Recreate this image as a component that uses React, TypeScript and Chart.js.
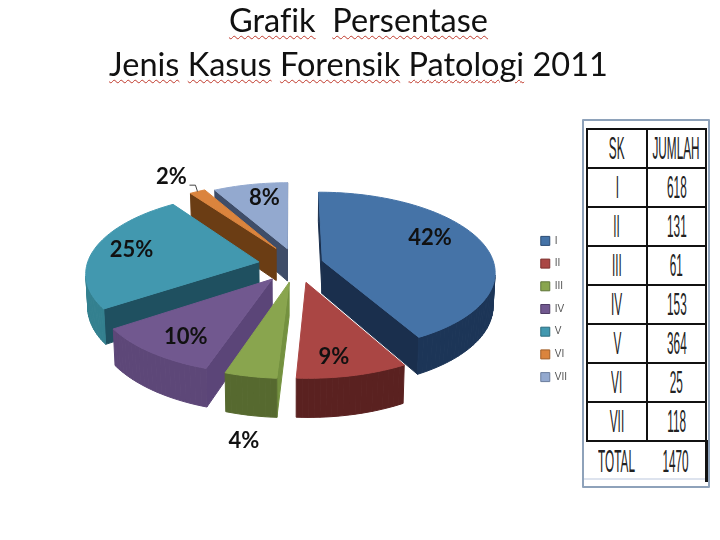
import React, { useEffect, useRef } from "react";
import { Chart, registerables } from "chart.js";

Chart.register(...registerables);

const titleLine1 = ["Grafik", "Persentase"];
const titleLine2 = ["Jenis", "Kasus", "Forensik", "Patologi"];
const titleYear = "2011";

const categories = ["I", "II", "III", "IV", "V", "VI", "VII"];
const jumlah = [618, 131, 61, 153, 364, 25, 118];
const totalLabel = "TOTAL";
const totalValue = 1470;
const tableHead = ["SK", "JUMLAH"];

const topColors = ["#4573a7", "#aa4644", "#89a54e", "#71588f", "#4298af", "#db843d", "#93a9cf"];
const wallColors = ["#1c3557", "#5a2120", "#56692f", "#5d4778", "#33808f", "#7a4a1c", "#5f7090"];
const cutColors = ["#1a2f4d", "#4f1c1b", "#74913f", "#5b4578", "#1f5060", "#6b3d14", "#3f4d68"];
const legendBorders = ["#2c4d75", "#7c2f2d", "#60753a", "#4f3d66", "#2c6c7e", "#a05f28", "#6b7d9c"];

const CX = 290, CY = 265, SCALE_X = 172, SCALE_Y = 78.5, PERSP = 0.13;
const EXPLODE_U = 0.185, EXPLODE_V = 0.22, DEPTH = 33;
const extraU = [0.01, 0.05, 0.03, 0.01, 0, 0.015, 0.03];
const extraV = [0, 0, 0, 0, 0, 0.03, 0];
const drawOrder = [6, 5, 0, 4, 3, 2, 1];

// label nudges from the projected slice centroid, in pixels
const labelNudge: [number, number][] = [[3, -11], [-1, 17], [31, -27], [-11, 12], [-20, -3], [-2, 3], [2, -7]];
const labelRadius = [0.65, 0.65, 1.75, 0.65, 0.65, 1.35, 0.65];

type P = [number, number];
const project = (u: number, v: number, bottom = false): P => {
  const f = 1 + PERSP * v;
  const x = CX + (SCALE_X * u) / f;
  const y = CY - (SCALE_Y * v) / f;
  if (!bottom) return [x, y];
  return [CX + (x - CX) * 0.99, y + DEPTH / f];
};

const poly = (ctx: CanvasRenderingContext2D, pts: P[], color: string) => {
  ctx.beginPath();
  pts.forEach((p, i) => (i ? ctx.lineTo(p[0], p[1]) : ctx.moveTo(p[0], p[1])));
  ctx.closePath();
  ctx.fillStyle = color;
  ctx.strokeStyle = color;
  ctx.lineWidth = 1;
  ctx.lineJoin = "round";
  ctx.fill();
  ctx.stroke();
};
const area = (p: P[]) =>
  p.reduce((s, a, i) => {
    const b = p[(i + 1) % p.length];
    return s + a[0] * b[1] - b[0] * a[1];
  }, 0);

const pie3d = {
  id: "pie3d",
  beforeDatasetDraw(chart: any) {
    const ctx: CanvasRenderingContext2D = chart.ctx;
    const arcs = chart.getDatasetMeta(0).data;
    const total = jumlah.reduce((a, b) => a + b, 0);
    const slices = arcs.map((el: any, i: number) => {
      const mid = (el.startAngle + el.endAngle) / 2;
      return {
        i,
        a0: el.startAngle,
        a1: el.endAngle,
        mid,
        ou: EXPLODE_U * Math.cos(mid) + extraU[i],
        ov: -EXPLODE_V * Math.sin(mid) + extraV[i],
      };
    });
    ctx.save();
    for (const idx of drawOrder) {
      const s = slices[idx];
      const top: [number, number][] = [];
      const steps = Math.max(4, Math.ceil((s.a1 - s.a0) / 0.03));
      for (let k = 0; k <= steps; k++) {
        const a = s.a0 + ((s.a1 - s.a0) * k) / steps;
        top.push([s.ou + Math.cos(a), s.ov - Math.sin(a)]);
      }
      const apex: [number, number] = [s.ou, s.ov];
      const quad = (a: [number, number], b: [number, number]): P[] => [
        project(a[0], a[1]),
        project(b[0], b[1]),
        project(b[0], b[1], true),
        project(a[0], a[1], true),
      ];
      const q0 = quad(apex, top[0]);
      if (area(q0) < 0) poly(ctx, q0, cutColors[s.i]);
      const q1 = quad(top[top.length - 1], apex);
      if (area(q1) < 0) poly(ctx, q1, cutColors[s.i]);
      for (let k = 0; k < steps; k++) {
        const q = quad(top[k], top[k + 1]);
        if (area(q) < 0) poly(ctx, q, wallColors[s.i]);
      }
      const facePts: P[] = [project(apex[0], apex[1]), ...top.map((t) => project(t[0], t[1]))];
      poly(ctx, facePts, topColors[s.i]);
    }
    // percentage labels
    ctx.font = "bold 22px Lato";
    ctx.textAlign = "center";
    ctx.textBaseline = "middle";
    for (const s of slices) {
      const r = labelRadius[s.i];
      const p = project(s.ou + r * Math.cos(s.mid), s.ov - r * Math.sin(s.mid));
      const n = labelNudge[s.i];
      ctx.fillStyle = "#111";
      ctx.fillText(`${Math.round((jumlah[s.i] / total) * 100)}%`, p[0] + n[0], p[1] + n[1]);
      if (categories[s.i] === "VI") {
        const q = project(s.ou + Math.cos(s.mid), s.ov - Math.sin(s.mid));
        ctx.strokeStyle = "#444";
        ctx.lineWidth = 1;
        ctx.beginPath();
        ctx.moveTo(p[0] + n[0] + 18, p[1] + n[1] + 8);
        ctx.lineTo(p[0] + n[0] + 24, p[1] + n[1] + 8);
        ctx.lineTo(q[0], q[1]);
        ctx.stroke();
      }
    }
    ctx.restore();
    return false;
  },
};

const cellText = (t: string) => (
  <span style={{ display: "inline-block", transform: "scaleX(0.38)", whiteSpace: "nowrap", margin: "0 -60px" }}>{t}</span>
);

const cellStyle: React.CSSProperties = {
  border: "2px solid #111",
  padding: 0,
  textAlign: "center",
  overflow: "hidden",
  height: 37,
  lineHeight: "36px",
};

export default function App() {
  const ref = useRef<HTMLCanvasElement>(null);
  useEffect(() => {
    const chart = new Chart(ref.current!, {
      type: "pie",
      data: {
        labels: categories,
        datasets: [{ data: jumlah, backgroundColor: topColors, borderColor: legendBorders, borderWidth: 1 }],
      },
      plugins: [pie3d],
      options: {
        animation: false,
        responsive: false,
        layout: { padding: { top: 78 } },
        plugins: {
          tooltip: { enabled: false },
          legend: {
            position: "right",
            labels: { boxWidth: 9, boxHeight: 9, padding: 12.7, color: "#555", font: { family: "Liberation Sans", size: 10 } },
          },
        },
      },
    } as any);
    return () => chart.destroy();
  }, []);

  const squig: React.CSSProperties = {
    textDecoration: "underline wavy #c0392b",
    textDecorationThickness: 1,
    textUnderlineOffset: 3,
  };
  const titleStyle: React.CSSProperties = {
    position: "absolute",
    left: 0,
    width: 717,
    textAlign: "center",
    fontFamily: "Lato",
    fontSize: 32.5,
    fontVariantLigatures: "none",
    color: "#111",
    whiteSpace: "pre",
    lineHeight: "40px",
  };
  return (
    <div style={{ position: "absolute", left: 0, top: 0, width: 720, height: 540, background: "#fff", overflow: "hidden" }}>
      <canvas ref={ref} width={577} height={540} style={{ position: "absolute", left: 0, top: 0 }} />
      <div style={{ ...titleStyle, top: 0 }}>
        <span style={squig}>{titleLine1[0]}</span>
        {"  "}
        <span style={squig}>{titleLine1[1]}</span>
      </div>
      <div style={{ ...titleStyle, top: 44 }}>
        {titleLine2.map((w, i) => (
          <React.Fragment key={w}>
            <span style={squig}>{w}</span>
            {i < titleLine2.length - 1 ? " " : ""}
          </React.Fragment>
        ))}{" "}
        {titleYear}
      </div>
      <div style={{ position: "absolute", left: 582, top: 119, width: 124, height: 365, border: "2px solid #8ea2ba", borderRadius: 1 }} />
      <div style={{ position: "absolute", left: 584, top: 478, width: 124, height: 2, background: "#dde3ee" }} />
      <table
        style={{
          position: "absolute",
          left: 586,
          top: 128,
          width: 119,
          tableLayout: "fixed",
          borderCollapse: "collapse",
          fontFamily: "Liberation Sans",
          fontSize: 31,
          color: "#222",
        }}
      >
        <colgroup>
          <col style={{ width: 60 }} />
          <col style={{ width: 59 }} />
        </colgroup>
        <tbody>
          <tr>
            <td style={cellStyle}>{cellText(tableHead[0])}</td>
            <td style={cellStyle}>{cellText(tableHead[1])}</td>
          </tr>
          {categories.map((c, i) => (
            <tr key={c}>
              <td style={cellStyle}>{cellText(c)}</td>
              <td style={cellStyle}>{cellText(String(jumlah[i]))}</td>
            </tr>
          ))}
          <tr>
            <td style={{ ...cellStyle, border: "none", borderTop: "2px solid #111", height: 40 }}>{cellText(totalLabel)}</td>
            <td style={{ ...cellStyle, border: "none", borderTop: "2px solid #111", borderRight: "3px solid #111", height: 40 }}>
              {cellText(String(totalValue))}
            </td>
          </tr>
        </tbody>
      </table>
    </div>
  );
}
